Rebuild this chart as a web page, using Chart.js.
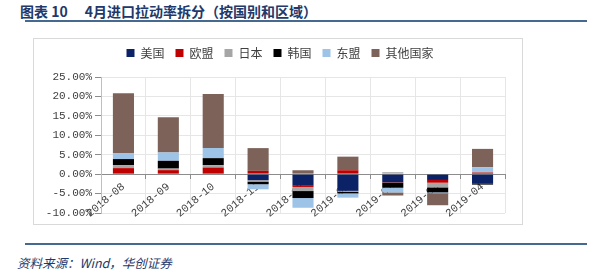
<!DOCTYPE html>
<html>
<head>
<meta charset="utf-8">
<script src="https://cdn.jsdelivr.net/npm/chart.js@4.4.1/dist/chart.umd.min.js"></script>
<style>
  body { margin: 0; background: #fff; width: 600px; height: 279px; position: relative; overflow: hidden; }
  #title { position: absolute; left: 20px; top: 1px; font: 700 14px "Noto Sans CJK SC"; color: #22386a; white-space: pre; }
  #title span { margin-left: 17px; }
  .rule { position: absolute; left: 25px; width: 562px; height: 2px; background: #46698f; }
  #box { position: absolute; left: 33px; top: 38px; width: 488px; height: 185px; border: 1px solid #d9d9d9; }
  #chart { position: absolute; left: 33px; top: 30px; }
  #source { position: absolute; left: 17px; top: 253px; font: italic 12.5px "Noto Sans CJK SC"; color: #22386a; }
</style>
</head>
<body>
<div id="title">图表 10<span>4月进口拉动率拆分（按国别和区域）</span></div>
<div class="rule" style="top:20px"></div>
<div id="box"></div>
<canvas id="chart" width="494" height="194"></canvas>
<div class="rule" style="top:243px"></div>
<div id="source">资料来源：Wind，华创证券</div>
<script>
// months on the x axis
const months = ['2018-08', '2018-09', '2018-10', '2018-11', '2018-12', '2019-01', '2019-02', '2019-03', '2019-04'];

// import pull-rate contribution by region, in %
const usa    = [0, 0, 0, -1.55, -3.0, -4.3, -2.1, -1.5, -2.5];
const eu     = [1.55, 1.03, 1.7, 0.85, -0.3, 1.0, -0.1, -0.7, 0.4];
const japan  = [0.78, 0.4, 0.62, -0.35, -1.05, -0.2, 0.5, -1.2, 0.3];
const korea  = [1.55, 2.0, 1.8, -0.7, -1.8, -0.45, -1.3, -1.3, -0.2];
const asean  = [1.55, 2.15, 2.6, -1.3, -2.5, -1.1, -1.2, -0.2, 1.1];
const others = [15.4, 9.06, 13.9, 5.85, 1.0, 3.5, -0.8, -3.1, 4.7];

const yTicks = [-10, -5, 0, 5, 10, 15, 20, 25];

const tickFont = { family: 'Liberation Mono', size: 11 };

const series = [
    { label: '美国', data: usa, color: '#0c2266' },
    { label: '欧盟', data: eu, color: '#c00000' },
    { label: '日本', data: japan, color: '#a6a6a6' },
    { label: '韩国', data: korea, color: '#000000' },
    { label: '东盟', data: asean, color: '#9dc3e6' },
    { label: '其他国家', data: others, color: '#7c6258' }
];

// push the plot area down a bit below the legend
const legendGap = {
    id: 'legendGap',
    beforeInit(chart) {
        const fit = chart.legend.fit;
        chart.legend.fit = function () {
            fit.call(this);
            this.height += 8;
        };
    }
};

new Chart(document.getElementById('chart').getContext('2d'), {
    type: 'bar',
    data: {
        labels: months,
        datasets: series.map(s => ({
            label: s.label,
            data: s.data,
            backgroundColor: s.color,
            borderWidth: 0,
            categoryPercentage: 1,
            barPercentage: 0.47
        }))
    },
    options: {
        responsive: false,
        animation: false,
        devicePixelRatio: 1,
        layout: { padding: { top: 6, bottom: 11, left: 0, right: 0 } },
        scales: {
            x: {
                stacked: true,
                position: { y: 0 },
                grid: { color: '#e6e6e6', tickColor: '#8c8c8c', tickLength: 4, offset: true },
                border: { color: '#8c8c8c' },
                ticks: {
                    autoSkip: false,
                    minRotation: 40,
                    maxRotation: 40,
                    padding: 2,
                    color: '#404040',
                    font: tickFont
                }
            },
            y: {
                stacked: true,
                min: -10,
                max: 25,
                afterFit(scale) { scale.width = 68; },
                afterBuildTicks(scale) { scale.ticks = yTicks.map(v => ({ value: v })); },
                grid: { color: '#e6e6e6', tickColor: '#8c8c8c', tickLength: 6 },
                border: { color: '#bfbfbf' },
                ticks: {
                    padding: 3,
                    color: '#404040',
                    font: tickFont,
                    callback: v => v.toFixed(2) + '%'
                }
            },
            y2: {
                position: 'right',
                afterFit(scale) { scale.width = 22; },
                grid: { display: false },
                border: { display: false },
                ticks: { display: false }
            }
        },
        plugins: {
            legend: {
                position: 'top',
                labels: {
                    boxWidth: 8,
                    boxHeight: 8,
                    padding: 11,
                    color: '#404040',
                    font: { family: 'Noto Sans CJK SC', size: 12 }
                }
            },
            tooltip: { enabled: false }
        }
    },
    plugins: [legendGap]
});
</script>
</body>
</html>
